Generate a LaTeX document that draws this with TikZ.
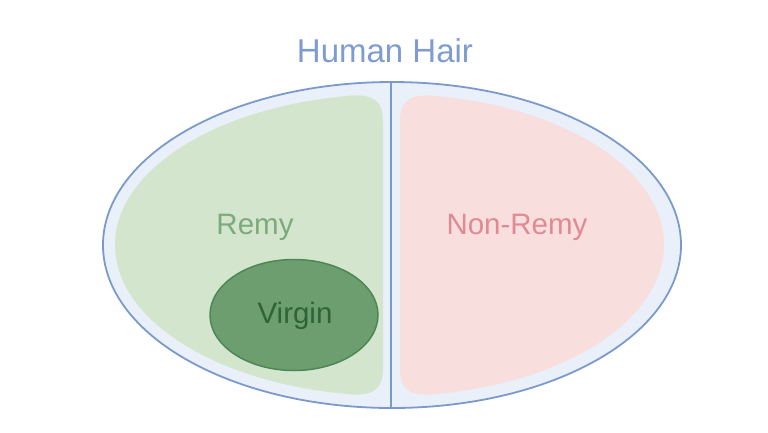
\documentclass[tikz,border=0pt]{standalone}
\usepackage{fontspec}
\setmainfont{Liberation Sans}
\usetikzlibrary{shapes.geometric}
\definecolor{outline}{HTML}{7B9ACC}
\definecolor{insidefill}{HTML}{E9F0FA}
\definecolor{remyfill}{HTML}{D3E6CD}
\definecolor{nonremyfill}{HTML}{F8DEDD}
\definecolor{virginfill}{HTML}{6C9E70}
\definecolor{virginline}{HTML}{4F8655}
\definecolor{titlecol}{HTML}{7F9CD0}
\definecolor{remytext}{HTML}{7DAA7D}
\definecolor{nonremytext}{HTML}{E08A93}
\definecolor{virgintext}{HTML}{2E6436}
\tikzset{
  label text/.style={font=\fontsize{29.5}{32}\selectfont, inner sep=0pt},
}
\begin{document}
\begin{tikzpicture}[x=1pt,y=-1pt]
\useasboundingbox (0,0) rectangle (768,432);
\fill[white] (0,0) rectangle (768,432);
% outer ellipse fill
\fill[insidefill] (392,245) ellipse [x radius=289, y radius=163];
% Remy region
\fill[remyfill] (383,368) -- (383,122)
  .. controls (383,100) and (373,95.6) .. (355,95.35)
  arc[start angle=262.32, end angle=97.68, x radius=277, y radius=151]
  .. controls (373,394.4) and (383,390) .. (383,368) -- cycle;
% Non-Remy region
\fill[nonremyfill] (400,368) -- (400,122)
  .. controls (400,100) and (410,95.6) .. (428,95.33)
  arc[start angle=277.61, end angle=442.39, x radius=272, y radius=151]
  .. controls (410,394.4) and (400,390) .. (400,368) -- cycle;
% outline and divider
\draw[outline, line width=1.8pt] (392,245) ellipse [x radius=289, y radius=163];
\coordinate (dtop) at (391,82);
\coordinate (dbot) at (391,408);
\draw[outline, line width=1.5pt] (dtop) -- (dbot);
% Virgin
\node (virgin) [ellipse, draw=virginline, line width=1.5pt, fill=virginfill,
  minimum width=168pt, minimum height=111pt, inner sep=0pt] at (294,315) {};
\node (virgintext) [label text, text=virgintext] at (295,316) {Virgin};
% labels
\node (title) [font=\fontsize{33}{36}\selectfont, text=titlecol, inner sep=0pt] at (385,51) {Human Hair};
\node (remy) [label text, text=remytext] at (255,227) {Remy};
\node (nonremy) [label text, text=nonremytext] at (517,227) {Non-Remy};
\end{tikzpicture}
\end{document}
